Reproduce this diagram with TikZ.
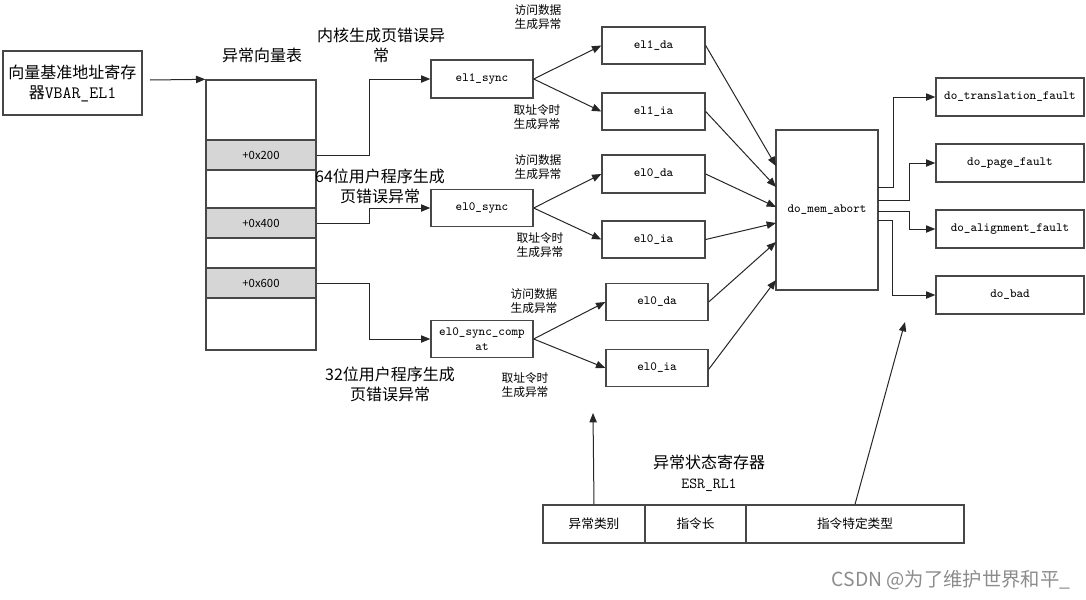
\documentclass[tikz,border=0pt]{standalone}
\usepackage{fontspec}
\setmainfont{Noto Sans CJK SC}
\newcommand\mono{\ttfamily}
\usetikzlibrary{arrows.meta}

\tikzset{
  sz/.style 2 args={minimum width=#1*0.75pt, minimum height=#2*0.75pt},
  box/.style={draw=black!72, line width=1pt, fill=white, inner sep=0pt,
              font=\mono\fontsize{9.4}{11.5}\selectfont, align=center},
  cell/.style={box, fill=black!16, font=\fontsize{8.5}{10}\selectfont},
  esr/.style={box, font=\fontsize{9.5}{11}\selectfont},
  conn/.style={draw=black!85, line width=0.75pt,
               -{Triangle[length=7pt,width=5.5pt]}},
  big/.style={font=\fontsize{12}{15}\selectfont, align=center, inner sep=0pt},
  small/.style={font=\fontsize{8.8}{10.2}\selectfont, align=center, inner sep=0pt},
}

\begin{document}
\begin{tikzpicture}[x=0.75pt, y=-0.75pt]
\useasboundingbox (0,0) rectangle (1086,600);

% base register
\node[box, sz={139}{64}, font=\fontsize{12}{15}\selectfont] (vbar) at (72.5,83)
  {向量基准地址寄存\\器{\mono\fontsize{13}{15}\selectfont VBAR\_EL1}};

% exception vector table
\node[big] (tbltitle) at (262,55) {异常向量表};
\node[box, sz={110}{270}] (tbl) at (261,215) {};
\node[cell, sz={110}{30}] (c200) at (261,155) {+0x200};
\node[cell, sz={110}{30}] (c400) at (261,223) {+0x400};
\node[cell, sz={110}{30}] (c600) at (261,283) {+0x600};
\coordinate (vbarout) at (150,80);
\draw[conn] (vbarout) -- (tbl.north west);

% synchronous exception entries
\node[box, sz={102}{38}] (el1sync) at (482,79) {el1\_sync};
\node[box, sz={102}{37}] (el0sync) at (482,208) {el0\_sync};
\node[box, sz={102}{37}] (compat) at (482,339) {el0\_sync\_comp\\at};

\node[big] (lblk) at (381,45) {内核生成页错误异\\常};
\node[big] (lbl64) at (380,186) {64位用户程序生成\\页错误异常};
\node[big] (lbl32) at (390,384) {32位用户程序生成\\页错误异常};

\draw[conn] (c200.east) -- (369,155) |- (el1sync.west);
\draw[conn] (c400.east) -- (369,223) |- (el0sync.west);
\draw[conn] (c600.east) -- (369,283) |- (compat.west);

% data / instruction abort handlers
\node[box, sz={103}{37}] (el1da) at (653.5,45.5) {el1\_da};
\node[box, sz={103}{37}] (el1ia) at (653.5,111.5) {el1\_ia};
\node[box, sz={103}{38}] (el0da) at (653.5,174) {el0\_da};
\node[box, sz={103}{37}] (el0ia) at (653.5,239.5) {el0\_ia};
\node[box, sz={102}{37}] (el0daB) at (657,302) {el0\_da};
\node[box, sz={102}{37}] (el0iaB) at (657,368) {el0\_ia};

\draw[conn] (el1sync.east) -- (el1da.west);
\draw[conn] (el1sync.east) -- (el1ia.west);
\draw[conn] (el0sync.east) -- (el0da.west);
\draw[conn] (el0sync.east) -- (el0ia.west);
\draw[conn] (compat.east) -- (el0daB.west);
\draw[conn] (compat.east) -- (el0iaB.west);

\node[small] (t1a) at (538,17) {访问数据\\生成异常};
\node[small] (t1b) at (537,117) {取址令时\\生成异常};
\node[small] (t2a) at (538,167) {访问数据\\生成异常};
\node[small] (t2b) at (540,245) {取址令时\\生成异常};
\node[small] (t3a) at (534,301) {访问数据\\生成异常};
\node[small] (t3b) at (525,385) {取址令时\\生成异常};

% common abort handler
\node[box, sz={102}{160}] (dma) at (827,210) {do\_mem\_abort};
\coordinate (in1) at (776,166);
\coordinate (in2) at (776,187);
\coordinate (in3) at (776,207);
\coordinate (in4) at (776,223);
\coordinate (in5) at (776,242);
\coordinate (in6) at (776,280);
\draw[conn] (el1da.east) -- (in1);
\draw[conn] (el1ia.east) -- (in2);
\draw[conn] (el0da.east) -- (in3);
\draw[conn] (el0ia.east) -- (in4);
\draw[conn] (el0daB.east) -- (in5);
\draw[conn] ([yshift=-1pt]el0iaB.east) -- (in6);

% fault handlers
\node[box, sz={148}{38}] (dtf) at (1010,97) {do\_translation\_fault};
\node[box, sz={148}{38}] (dpf) at (1010,163) {do\_page\_fault};
\node[box, sz={148}{38}] (daf) at (1010,229) {do\_alignment\_fault};
\node[box, sz={148}{38}] (dbad) at (1010,295) {do\_bad};
\coordinate (out1) at (878,187);
\coordinate (out2) at (878,200);
\coordinate (out3) at (878,211);
\coordinate (out4) at (878,220);
\draw[conn] (out1) -- (893,187) |- (dtf.west);
\draw[conn] (out2) -- (909,200) |- (dpf.west);
\draw[conn] (out3) -- (909,211) |- (daf.west);
\draw[conn] (out4) -- (892,220) |- (dbad.west);

% exception syndrome register
\node[big] (esrtitle) at (709,473) {异常状态寄存器\\{\mono\fontsize{11.5}{15}\selectfont ESR\_RL1}};
\node[esr, sz={102}{38}] (ec) at (594,524) {异常类别};
\node[esr, sz={101}{38}] (il) at (695.5,524) {指令长};
\node[esr, sz={218}{38}] (iss) at (855,524) {指令特定类型};
\coordinate (ecup) at (593,413);
\coordinate (issup) at (905,322);
\draw[conn] (ec.north) -- (ecup);
\draw[conn] (iss.north) -- (issup);

% watermark
\node[font=\fontsize{14.5}{16}\selectfont, text=black!45, inner sep=0pt] (wm) at (951,580)
  {CSDN @为了维护世界和平\_};
\end{tikzpicture}
\end{document}
